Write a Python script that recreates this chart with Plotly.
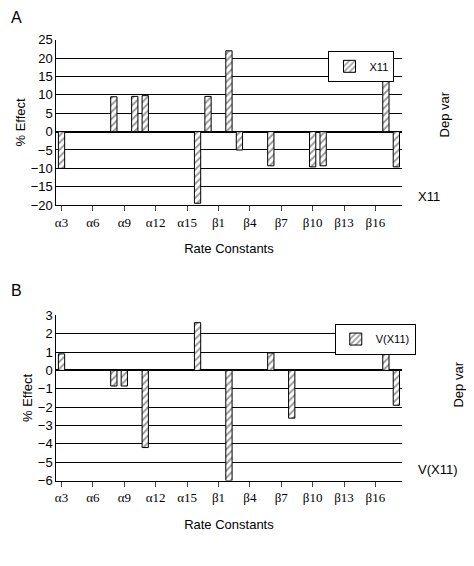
import plotly.graph_objects as go

alpha = ["α%d" % i for i in range(3, 18)]
beta = ["β%d" % i for i in range(1, 19)]
cats = alpha + beta

# values (0 where no visible bar)
x11 = {"α3": -10.0, "α8": 9.5, "α10": 9.6, "α11": 9.8, "α16": -19.5, "α17": 9.6,
       "β2": 22.0, "β3": -5.0, "β6": -9.3, "β10": -9.6, "β11": -9.3,
       "β17": 18.0, "β18": -9.6}
vx11 = {"α3": 0.9, "α8": -0.85, "α9": -0.85, "α11": -4.2, "α16": 2.6,
        "β2": -6.0, "β6": 0.95, "β8": -2.6, "β17": 1.8, "β18": -1.9}

vals_a = [x11.get(c, 0) for c in cats]
vals_b = [vx11.get(c, 0) for c in cats]
tick_labels = cats[::3]

fig = go.Figure()
bar_style = dict(marker=dict(color="white", line=dict(color="black", width=1),
                             pattern=dict(shape="/", fgcolor="#333", size=5, solidity=0.4)),
                 width=0.6)
fig.add_trace(go.Bar(x=cats, y=vals_a, name="X11", xaxis="x", yaxis="y", legend="legend", **bar_style))
fig.add_trace(go.Bar(x=cats, y=vals_b, name="V(X11)", xaxis="x2", yaxis="y2", legend="legend2", **bar_style))

xax = dict(tickmode="array", tickvals=tick_labels, ticktext=tick_labels, ticks="outside",
           tickfont=dict(family="Liberation Serif", size=13, color="black"),
           showline=True, linecolor="black", showgrid=False, zeroline=False,
           title=dict(text="Rate Constants", font=dict(family="Liberation Sans", size=13, color="black")))
yax = dict(showgrid=True, gridcolor="black", gridwidth=0.6, showline=True, linecolor="black",
           zeroline=True, zerolinecolor="black", zerolinewidth=2,
           tickfont=dict(family="Liberation Sans", size=13, color="black"),
           title=dict(text="% Effect", font=dict(family="Liberation Sans", size=13, color="black"), standoff=2))

leg = dict(xanchor="right", yanchor="top", bordercolor="black", borderwidth=1, itemwidth=30,
           font=dict(family="Liberation Sans", size=11, color="black"), bgcolor="white",
           tracegroupgap=0)
fig.update_layout(
    width=474, height=566, margin=dict(l=0, r=0, t=0, b=0),
    paper_bgcolor="white", plot_bgcolor="white", bargap=0.4,
    xaxis=dict(domain=[0.1, 0.83], anchor="y", **xax),
    yaxis=dict(domain=[0.655, 0.955], anchor="x", range=[-20, 25], dtick=5, **yax),
    xaxis2=dict(domain=[0.1, 0.83], anchor="y2", **xax),
    yaxis2=dict(domain=[0.155, 0.455], anchor="x2", range=[-6, 3], dtick=1, **yax),
    legend=dict(x=0.815, y=0.935, **leg),
    legend2=dict(x=0.86, y=0.44, **leg),
    showlegend=True,
)
ann_font = dict(family="Liberation Sans", size=13, color="black")
for txt, x, y, ang, sz in [("A", 0.0, 0.995, 0, 16), ("B", 0.0, 0.5, 0, 16),
                           ("Dep var", 0.9, 0.82, -90, 13), ("Dep var", 0.93, 0.33, -90, 13),
                           ("X11", 0.86, 0.67, 0, 13), ("V(X11)", 0.86, 0.175, 0, 13)]:
    fig.add_annotation(text=txt, x=x, y=y, xref="paper", yref="paper", showarrow=False,
                       xanchor="left", yanchor="middle", textangle=ang,
                       font=dict(ann_font, size=sz))

fig.write_html("out.html")
